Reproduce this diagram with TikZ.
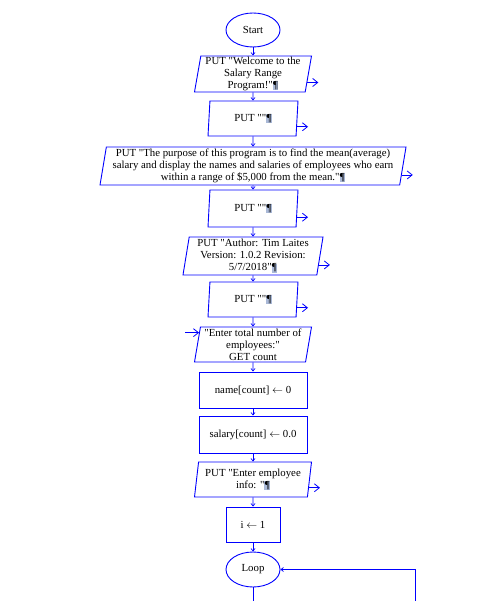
\documentclass[tikz,border=0pt]{standalone}
\usepackage{fontspec}
\setmainfont{Liberation Serif}[Ligatures=TeXOff]
\usetikzlibrary{arrows.meta,shapes.geometric,calc}
\definecolor{flowblue}{RGB}{0,0,255}
\definecolor{pilgrey}{RGB}{170,185,215}
\newcommand{\pil}{{\setlength{\fboxsep}{0.3pt}\colorbox{pilgrey}{\P}}}
\newcommand{\q}{\symbol{34}}

\begin{document}
\begin{tikzpicture}[x=1pt, y=-1pt, font=\fontsize{10.8}{12}\selectfont,
    io/.style={trapezium, trapezium left angle=80, trapezium right angle=100,
      trapezium stretches body, draw=flowblue, line width=0.9pt,
      align=center, inner sep=1pt},
    proc/.style={rectangle, draw=flowblue, line width=0.9pt, align=center},
    term/.style={ellipse, draw=flowblue, line width=0.9pt,
      minimum width=54pt, minimum height=34pt, inner sep=0pt},
    flow/.style={-{Straight Barb[length=2.5pt,width=4pt]}, flowblue, line width=0.7pt},
    outarr/.style={-{Straight Barb[length=5pt,width=8pt]}, flowblue, line width=0.8pt}]
    \useasboundingbox (0,0) rectangle (488,601);
    % Start
    \node[term] (start) at (253,30) {Start};
    % Output boxes
    \node[io, minimum width=117pt, minimum height=36pt] (welcome) at (253,74)
      {PUT \q Welcome to the\\Salary Range\\Program!\q\pil};
    \node[io, minimum width=90pt, minimum height=35pt] (blankA) at (253,118.5)
      {PUT \q\q\pil};
    \node[io, minimum width=306pt, minimum height=38pt] (purpose) at (253,166)
      {PUT \q The purpose of this program is to find the mean(average)\\
       salary and display the names and salaries of employees who earn\\
       within a range of \$5,000 from the mean.\q\pil};
    \node[io, minimum width=90pt, minimum height=37pt] (blankB) at (253,208.5)
      {PUT \q\q\pil};
    \node[io, minimum width=140pt, minimum height=38pt] (author) at (253,256)
      {PUT \q Author: Tim Laites\\Version: 1.0.2 Revision:\\5/7/2018\q\pil};
    \node[io, minimum width=90pt, minimum height=35pt] (blankC) at (253,299.5)
      {PUT \q\q\pil};
    % Input box
    \node[io, minimum width=117pt, minimum height=35pt] (count) at (253,344.5)
      {\q Enter total number of\\employees:\q\\GET count};
    % Assignments
    \node[proc, minimum width=108pt, minimum height=36pt] (names) at (253,390)
      {name[count] $\leftarrow$ 0};
    \node[proc, minimum width=108pt, minimum height=37pt] (salaries) at (253,434.5)
      {salary[count] $\leftarrow$ 0.0};
    \node[io, minimum width=117pt, minimum height=35pt] (info) at (253,479.5)
      {PUT \q Enter employee\\info: \q\pil};
    \node[proc, minimum width=54pt, minimum height=35pt] (init) at (253,524.5)
      {i $\leftarrow$ 1};
    % Loop
    \node[term, minimum height=35pt] (loop) at (253,569.5) {Loop};
    % Flow arrows
    \foreach \a/\b in {start/welcome, welcome/blankA, blankA/purpose,
        purpose/blankB, blankB/author, author/blankC, blankC/count,
        count/names, names/salaries, salaries/info, info/init, init/loop}
      \draw[flow] (\a) -- (\b);
    % Output arrows
    \foreach \n in {welcome, blankA, purpose, blankB, author, blankC, info}
      \draw[outarr] ($(\n.bottom right corner)!0.27!(\n.top right corner)$) -- ++(11,0);
    % Input arrow
    \coordinate (cin) at ($(count.top left corner)!0.17!(count.bottom left corner)$);
    \coordinate (cfrom) at ([xshift=-14pt]cin);
    \draw[outarr] (cfrom) -- (cin);
    % Loop back and exit
    \coordinate (back) at (415,601);
    \coordinate (exit) at (253,601);
    \draw[flow] (back) |- (loop.east);
    \draw[flowblue, line width=0.9pt] (loop.south) -- (exit);
\end{tikzpicture}
\end{document}
